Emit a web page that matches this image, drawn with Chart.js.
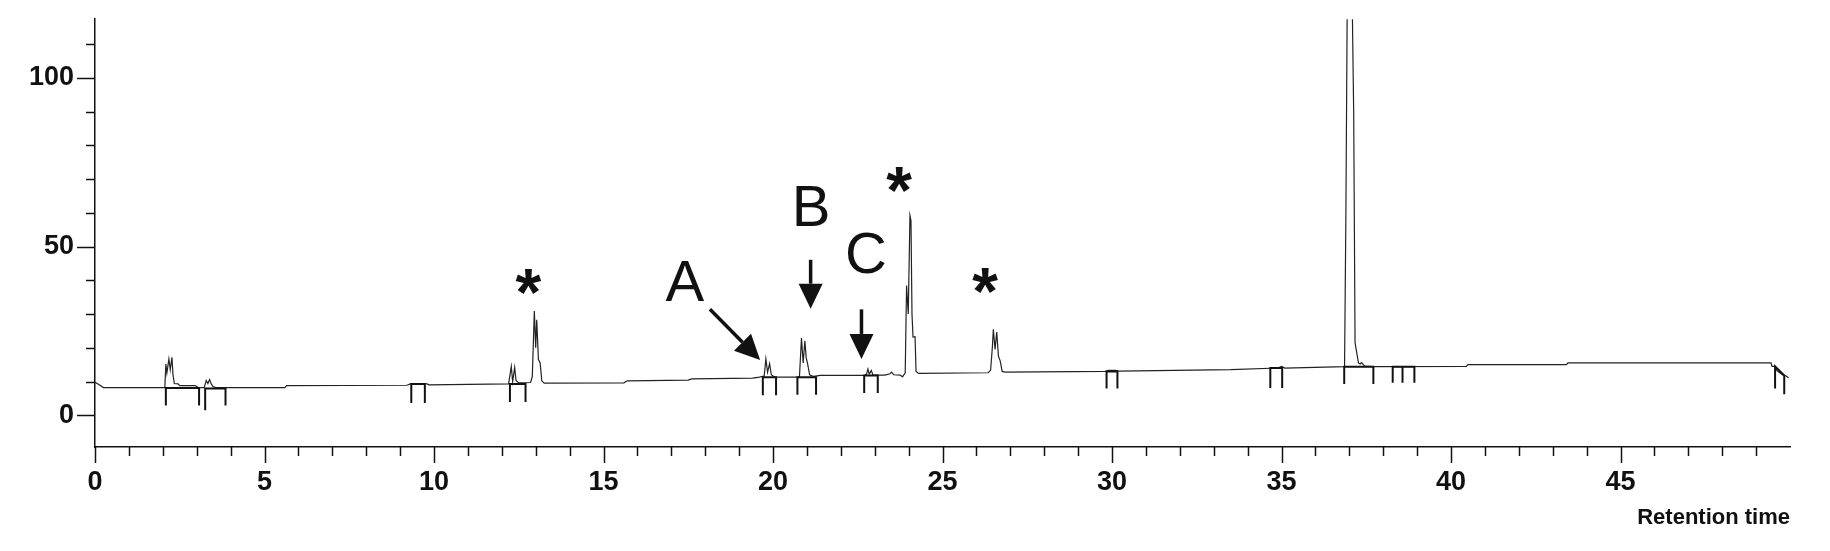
<!DOCTYPE html>
<html>
<head>
<meta charset="utf-8">
<title>Chromatogram</title>
<script src="https://cdn.jsdelivr.net/npm/chart.js@4.4.1/dist/chart.umd.min.js"></script>
<style>
  html, body { margin: 0; padding: 0; background: #fff; }
  #wrap { width: 1830px; height: 551px; }
</style>
</head>
<body>
<div id="wrap"><canvas id="chrom"></canvas></div>
<script>
// retention time (min) and detector signal
const retentionTime = [
  0.00, 0.10, 0.25, 2.06, 2.09, 2.12, 2.18, 2.22, 2.27, 2.30,
  2.34, 2.45, 2.50, 2.95, 3.05, 3.22, 3.28, 3.33, 3.38, 3.43,
  3.48, 3.56, 5.60, 5.65, 9.20, 9.30, 9.80, 9.85, 12.20, 12.28,
  12.32, 12.38, 12.42, 12.50, 12.85, 12.90, 12.96, 13.00, 13.03, 13.08,
  13.13, 13.18, 13.25, 15.60, 15.70, 17.50, 17.60, 19.40, 19.60, 19.74,
  19.79, 19.84, 19.90, 19.95, 20.05, 20.78, 20.84, 20.89, 20.94, 20.98,
  21.02, 21.08, 21.20, 21.40, 22.70, 22.76, 22.80, 22.84, 22.90, 22.95,
  23.30, 23.45, 23.50, 23.56, 23.75, 23.82, 23.90, 23.94, 23.99, 24.04,
  24.07, 24.10, 24.13, 24.19, 24.22, 24.30, 26.35, 26.42, 26.47, 26.50,
  26.55, 26.60, 26.65, 26.70, 26.76, 26.85, 29.80, 29.90, 30.10, 30.20,
  33.50, 34.90, 35.00, 35.10, 36.86, 36.90, 36.95, 37.05, 37.13, 37.17,
  37.27, 37.32, 37.36, 37.45, 37.70, 40.45, 40.50, 43.40, 43.45, 49.44,
  49.47, 49.55, 49.62, 49.70, 49.80, 49.86, 49.96
];
const signal = [
  9.8, 9.2, 8.2, 8.2, 15.2, 12.5, 16.7, 13.5, 17.2, 12.0,
  9.4, 9.3, 8.8, 8.8, 8.2, 8.2, 10.3, 9.4, 10.6, 9.3,
  8.5, 8.2, 8.2, 8.8, 8.9, 9.3, 9.3, 9.0, 9.3, 14.5,
  10.0, 14.2, 10.3, 9.6, 9.7, 11.5, 30.9, 20.0, 28.3, 16.5,
  15.6, 10.2, 9.5, 9.6, 10.2, 10.4, 10.8, 11.0, 11.3, 11.6,
  16.7, 12.8, 15.3, 12.0, 11.3, 11.3, 22.9, 15.5, 22.1, 17.0,
  15.3, 12.0, 11.5, 11.8, 11.8, 12.2, 13.7, 12.2, 13.3, 11.9,
  11.9, 12.3, 12.8, 12.0, 11.9, 11.4, 12.6, 38.5, 30.0, 59.2,
  57.7, 30.0, 23.2, 23.3, 13.0, 12.4, 12.6, 13.4, 20.1, 25.5,
  19.5, 24.7, 17.5, 16.2, 13.0, 12.8, 13.0, 13.3, 13.3, 13.1,
  13.5, 14.0, 14.5, 14.0, 14.4, 60.5, 140, 150, 89.1, 21.5,
  15.5, 15.2, 15.6, 14.6, 14.4, 14.5, 15.0, 15.0, 15.5, 15.5,
  14.5, 14.5, 13.2, 12.6, 11.9, 11.8, 11.1
];

// integration marks: start / end of each window, level on the trace and foot of the mark
const markStart = [2.09, 3.25, 9.33, 12.24, 19.70, 20.72, 22.69, 29.84, 34.67, 36.85, 38.28, 38.57, 49.56];
const markEnd = [3.07, 3.85, 9.73, 12.70, 20.09, 21.27, 23.09, 30.16, 35.02, 37.71, 38.57, 38.92, 49.83];
const markStartLevel = [8.1, 7.9, 9.3, 9.3, 11.3, 11.3, 11.8, 13.0, 14.0, 14.4, 14.4, 14.4, 14.5];
const markEndLevel = [8.1, 7.9, 9.3, 9.3, 11.3, 11.3, 11.8, 13.0, 14.0, 14.4, 14.4, 14.4, 11.8];
const markStartFoot = [2.9, 1.5, 3.6, 3.9, 5.9, 6.1, 6.6, 7.9, 8.1, 9.3, 9.6, 9.6, 7.9];
const markEndFoot = [2.9, 2.9, 3.6, 3.9, 5.9, 6.1, 6.6, 7.9, 8.1, 9.3, 9.6, 9.6, 6.2];

// peak names and stars (data units)
const peakNames = ['A', 'B', 'C'];
const nameTime = [17.40, 21.12, 22.74];
const nameLevel = [33.9, 56.2, 42.1];
const starTime = [12.78, 23.72, 26.26];
const starLevel = [40.9, 71.1, 41.2];
const arrowFromTime = [18.14, 21.11, 22.61];
const arrowFromLevel = [31.4, 46.1, 31.4];
const arrowToTime = [19.62, 21.11, 22.61];
const arrowToLevel = [16.4, 31.6, 16.7];

// axis range
const timeMin = 0, timeMax = 50;
const signalMin = -9.42, signalMax = 117.45;

const fontFamily = '"Liberation Sans", Arial, sans-serif';

// trace as x/y points
const tracePoints = [];
for (let i = 0; i < retentionTime.length; i++) {
  tracePoints.push({ x: retentionTime[i], y: signal[i] });
}

// the little ⊓ shapes under peaks
const markPoints = [];
for (let i = 0; i < markStart.length; i++) {
  markPoints.push({ x: markStart[i], y: markStartFoot[i] });
  markPoints.push({ x: markStart[i], y: markStartLevel[i] });
  markPoints.push({ x: markEnd[i], y: markEndLevel[i] });
  markPoints.push({ x: markEnd[i], y: markEndFoot[i] });
  markPoints.push({ x: markEnd[i], y: null });
}

// short and long tick marks on both axes
const tickMarks = {
  id: 'tickMarks',
  afterDraw(chart) {
    const ctx = chart.ctx;
    const x = chart.scales.x;
    const y = chart.scales.y;
    ctx.save();
    ctx.strokeStyle = '#111';
    ctx.lineWidth = 1.5;
    ctx.beginPath();
    for (let v = timeMin; v < timeMax; v++) {
      const px = Math.round(x.getPixelForValue(v)) + 0.5;
      const len = v % 5 === 0 ? 16 : 9;
      ctx.moveTo(px, x.top);
      ctx.lineTo(px, x.top + len);
    }
    for (let v = 0; v <= 110; v += 10) {
      const py = Math.round(y.getPixelForValue(v)) + 0.5;
      const len = v % 50 === 0 ? 18 : 9;
      ctx.moveTo(y.right - len, py);
      ctx.lineTo(y.right, py);
    }
    ctx.stroke();
    ctx.restore();
  }
};

function drawArrow(ctx, x0, y0, x1, y1) {
  const ang = Math.atan2(y1 - y0, x1 - x0);
  const headLen = 25, half = 12;
  const bx = x1 - headLen * Math.cos(ang);
  const by = y1 - headLen * Math.sin(ang);
  ctx.lineWidth = 3.5;
  ctx.beginPath();
  ctx.moveTo(x0, y0);
  ctx.lineTo(bx, by);
  ctx.stroke();
  ctx.beginPath();
  ctx.moveTo(x1, y1);
  ctx.lineTo(bx + half * Math.sin(ang), by - half * Math.cos(ang));
  ctx.lineTo(bx - half * Math.sin(ang), by + half * Math.cos(ang));
  ctx.closePath();
  ctx.fill();
}

// letters, stars and arrows
const peakNotes = {
  id: 'peakNotes',
  afterDatasetsDraw(chart) {
    const ctx = chart.ctx;
    const x = chart.scales.x;
    const y = chart.scales.y;
    ctx.save();
    ctx.fillStyle = '#111';
    ctx.strokeStyle = '#111';
    ctx.textAlign = 'center';
    ctx.textBaseline = 'alphabetic';
    ctx.font = '58px ' + fontFamily;
    for (let i = 0; i < peakNames.length; i++) {
      ctx.fillText(peakNames[i], x.getPixelForValue(nameTime[i]), y.getPixelForValue(nameLevel[i]));
    }
    const starSize = 66;
    ctx.font = 'bold ' + starSize + 'px ' + fontFamily;
    for (let i = 0; i < starTime.length; i++) {
      ctx.fillText('*', x.getPixelForValue(starTime[i]), y.getPixelForValue(starLevel[i]) + 0.57 * starSize);
    }
    for (let i = 0; i < arrowFromTime.length; i++) {
      drawArrow(ctx,
        x.getPixelForValue(arrowFromTime[i]), y.getPixelForValue(arrowFromLevel[i]),
        x.getPixelForValue(arrowToTime[i]), y.getPixelForValue(arrowToLevel[i]));
    }
    ctx.restore();
  }
};

const canvas = document.getElementById('chrom');
new Chart(canvas, {
  type: 'line',
  data: {
    datasets: [
      {
        label: 'integration',
        data: markPoints,
        borderColor: '#111',
        borderWidth: 2,
        pointRadius: 0,
        spanGaps: false
      },
      {
        label: 'signal',
        data: tracePoints,
        borderColor: '#222',
        borderWidth: 1.2,
        pointRadius: 0,
        tension: 0
      }
    ]
  },
  options: {
    responsive: true,
    maintainAspectRatio: false,
    animation: false,
    events: [],
    layout: { padding: { left: 0, right: 40, top: 16, bottom: 0 } },
    plugins: {
      legend: { display: false },
      tooltip: { enabled: false }
    },
    scales: {
      x: {
        type: 'linear',
        min: timeMin,
        max: timeMax,
        afterFit: (scale) => { scale.height = 104; },
        grid: { drawOnChartArea: false, drawTicks: true, tickLength: 16, tickColor: 'rgba(0,0,0,0)' },
        border: { display: true, color: '#111', width: 1.5 },
        ticks: {
          stepSize: 1,
          autoSkip: false,
          maxRotation: 0,
          padding: 3,
          color: '#111',
          font: { family: fontFamily, size: 27, weight: 'bold' },
          callback: (v) => (v % 5 === 0 && v < timeMax ? String(v) : '')
        },
        title: {
          display: true,
          text: 'Retention time',
          align: 'end',
          color: '#111',
          font: { family: fontFamily, size: 22, weight: 'bold' },
          padding: { top: 20, bottom: 20 }
        }
      },
      y: {
        type: 'linear',
        min: signalMin,
        max: signalMax,
        afterFit: (scale) => { scale.width = 95; },
        grid: { drawOnChartArea: false, drawTicks: true, tickLength: 18, tickColor: 'rgba(0,0,0,0)' },
        border: { display: true, color: '#111', width: 1.5 },
        ticks: {
          stepSize: 10,
          autoSkip: false,
          padding: 3,
          color: '#111',
          font: { family: fontFamily, size: 27, weight: 'bold' },
          callback: (v) => (v % 50 === 0 ? String(v) : '')
        }
      }
    }
  },
  plugins: [tickMarks, peakNotes]
});
</script>
</body>
</html>
